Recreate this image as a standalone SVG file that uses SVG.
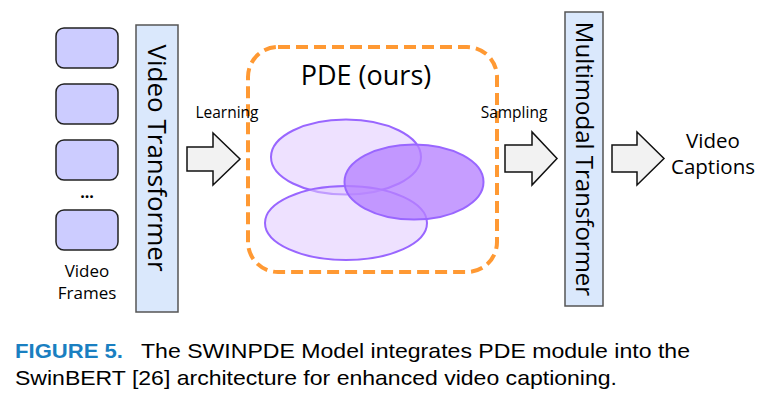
<svg xmlns="http://www.w3.org/2000/svg" width="762" height="404" viewBox="0 0 762 404">
<defs>
<style>
.frame{fill:#ccccff;stroke:#222;stroke-width:1.5}
.tf{fill:#dae8fc;stroke:#555;stroke-width:1.5}
.arrow{fill:#f2f2f2;stroke:#111;stroke-width:1.5;stroke-linejoin:miter}
.lbl{font-family:"Open Sans","Noto Sans","DejaVu Sans",sans-serif;fill:#000}
.ell{stroke:#9966ff;stroke-width:2}
.cap{font-family:"Liberation Sans",Arial,sans-serif;font-size:21px;fill:#000}
.fig{fill:#1a7fc1;font-weight:bold}
</style>
</defs>
<rect width="762" height="404" fill="#fff"/>
<g id="video-frames">
<rect class="frame" x="56" y="28" width="62" height="40" rx="8"/>
<rect class="frame" x="56" y="84" width="62" height="40" rx="8"/>
<rect class="frame" x="56" y="140" width="62" height="40" rx="8"/>
<text class="lbl" x="87" y="198" font-size="16" font-weight="bold" text-anchor="middle">...</text>
<rect class="frame" x="56" y="210" width="62" height="40" rx="8"/>
<text class="lbl" x="87" y="277" font-size="17" text-anchor="middle">Video</text>
<text class="lbl" x="87" y="299" font-size="17" text-anchor="middle">Frames</text>
</g>
<g id="video-transformer">
<rect class="tf" x="136" y="25" width="42" height="287"/>
<text class="lbl" font-size="26" text-anchor="middle" transform="translate(148,158) rotate(90)">Video Transformer</text>
</g>
<g id="pde">
<rect x="248" y="47" width="249" height="225" rx="30" fill="none" stroke="#ff9933" stroke-width="4" stroke-dasharray="12 6"/>
<text class="lbl" x="366" y="85" font-size="27" text-anchor="middle">PDE (ours)</text>
<ellipse class="ell" cx="346" cy="157" rx="75" ry="37.5" fill="#e0c8ff" fill-opacity="0.55"/>
<ellipse class="ell" cx="346" cy="223" rx="81" ry="37" fill="#e0c8ff" fill-opacity="0.55"/>
<ellipse class="ell" cx="414" cy="182" rx="69.5" ry="37.5" fill="#b682ff" fill-opacity="0.78"/>
</g>
<g id="multimodal-transformer">
<rect class="tf" x="565" y="12" width="38" height="294"/>
<text class="lbl" font-size="24" text-anchor="middle" transform="translate(576,159) rotate(90)">Multimodal Transformer</text>
</g>
<g id="video-captions">
<text class="lbl" x="713" y="148" font-size="20.5" text-anchor="middle">Video</text>
<text class="lbl" x="713" y="174" font-size="20.5" text-anchor="middle">Captions</text>
</g>
<g id="connectors">
<path class="arrow" d="M187,147 L213,147 L213,133 L240,159 L213,185 L213,171 L187,171 Z"/>
<text class="lbl" x="227" y="118" font-size="15.5" text-anchor="middle">Learning</text>
<path class="arrow" d="M505,145 L532,145 L532,132 L557,158.5 L532,185 L532,172 L505,172 Z"/>
<text class="lbl" x="514" y="118" font-size="15.5" text-anchor="middle">Sampling</text>
<path class="arrow" d="M612,145 L637,145 L637,132 L664,158.5 L637,185 L637,172 L612,172 Z"/>
</g>
<g id="caption">
<text class="cap fig" x="15" y="358" textLength="108" lengthAdjust="spacingAndGlyphs">FIGURE 5.</text>
<text class="cap" x="141" y="358" textLength="549" lengthAdjust="spacingAndGlyphs">The SWINPDE Model integrates PDE module into the</text>
<text class="cap" x="15" y="385" textLength="602" lengthAdjust="spacingAndGlyphs">SwinBERT [26] architecture for enhanced video captioning.</text>
</g>
</svg>
